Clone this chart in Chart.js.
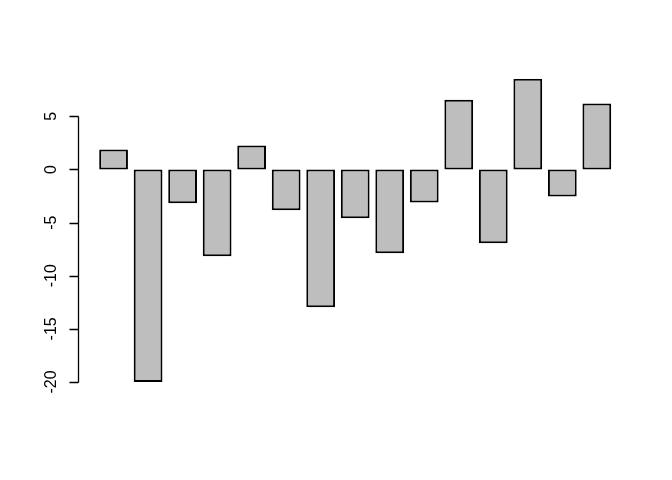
<!DOCTYPE html>
<html>
<head>
<meta charset="utf-8">
<script src="https://cdn.jsdelivr.net/npm/chart.js@4/dist/chart.umd.min.js"></script>
<style>
  html, body { margin: 0; padding: 0; background: #fff; }
</style>
</head>
<body>
<canvas id="chart" width="672" height="480"></canvas>
<script>
// bar heights, left to right
const values = [1.88, -20.0, -3.19, -8.17, 2.25, -3.85, -12.96, -4.6, -7.89, -3.1, 6.57, -6.95, 8.54, -2.54, 6.2];
const yTicks = [-20, -15, -10, -5, 0, 5];
const yLimits = [-20, 8.54];

// barplot geometry (width 1, space 0.2)
const barWidth = 1;
const barSpace = 0.2;
const centers = values.map((v, i) => barSpace + barWidth / 2 + i * (barWidth + barSpace));
const xSpan = values.length * (barWidth + barSpace);
const xPad = 0.04 * (xSpan - barSpace);

// R style y axis: line from first to last tick, ticks pointing out, rotated labels
const rAxis = {
  id: "rAxis",
  afterDraw(c) {
    const ctx = c.ctx;
    const y = c.scales.y;
    const ax = Math.round(c.chartArea.left) - 0.5;
    ctx.save();
    ctx.strokeStyle = "#000";
    ctx.lineWidth = 1.3;
    ctx.beginPath();
    ctx.moveTo(ax, Math.round(y.getPixelForValue(yTicks[0])) + 0.5);
    ctx.lineTo(ax, Math.round(y.getPixelForValue(yTicks[yTicks.length - 1])) + 0.5);
    yTicks.forEach((t) => {
      const py = Math.round(y.getPixelForValue(t)) + 0.5;
      ctx.moveTo(ax, py);
      ctx.lineTo(ax - 9, py);
    });
    ctx.stroke();

    ctx.fillStyle = "#000";
    ctx.font = "16px 'Liberation Sans', Arial, sans-serif";
    ctx.textAlign = "center";
    ctx.textBaseline = "alphabetic";
    yTicks.forEach((t) => {
      const py = y.getPixelForValue(t);
      ctx.save();
      ctx.translate(56, py);
      ctx.rotate(-Math.PI / 2);
      ctx.fillText(String(t), 0, 0);
      ctx.restore();
    });
    ctx.restore();
  },
};

new Chart(document.querySelector("#chart").getContext("2d"), {
  type: "bar",
  data: {
    datasets: [
      {
        data: values.map((v, i) => ({ x: centers[i], y: v })),
        backgroundColor: "#bebebe",
        borderColor: "#000",
        borderWidth: 2,
        borderSkipped: false,
        barPercentage: barWidth / (barWidth + barSpace),
        categoryPercentage: 1,
      },
    ],
  },
  options: {
    responsive: false,
    animation: false,
    devicePixelRatio: 1,
    layout: {
      padding: { left: 78.7, right: 40.3, top: 78.7, bottom: 98 },
    },
    plugins: {
      legend: { display: false },
      tooltip: { enabled: false },
    },
    scales: {
      x: {
        type: "linear",
        display: false,
        min: barSpace - xPad,
        max: xSpan + xPad,
        offset: false,
      },
      y: {
        display: false,
        min: yLimits[0],
        max: yLimits[1],
      },
    },
  },
  plugins: [rAxis],
});
</script>
</body>
</html>
